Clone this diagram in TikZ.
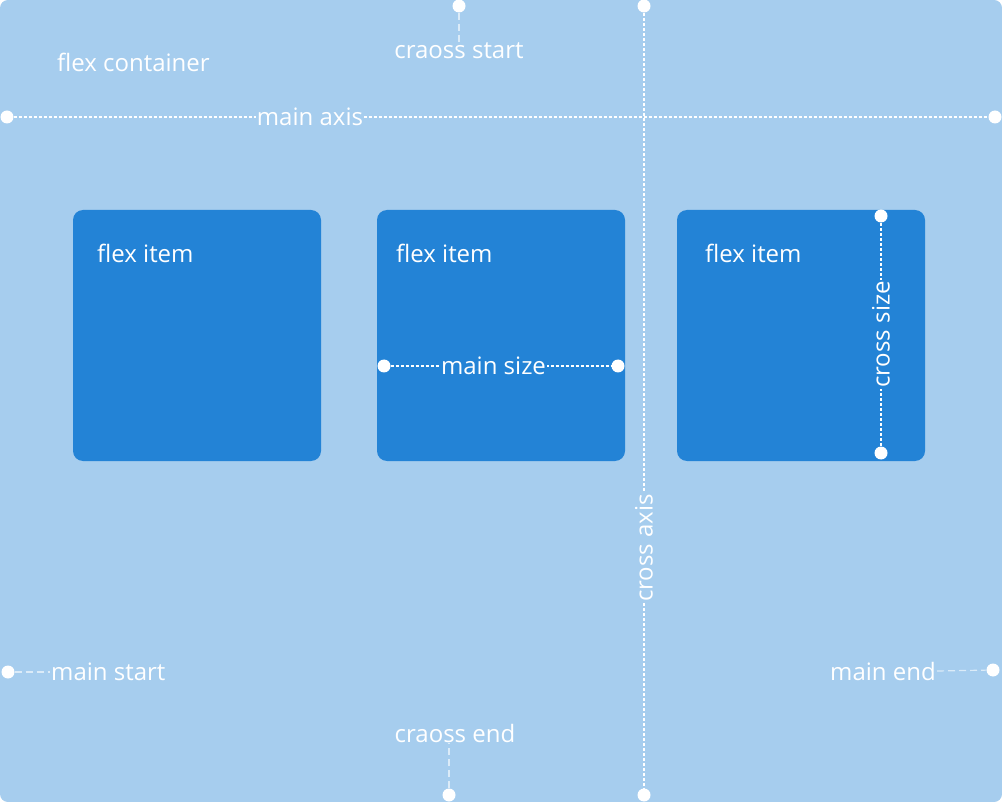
\documentclass[tikz,border=0pt]{standalone}
\usepackage{fontspec}
\setmainfont{Open Sans}
\usetikzlibrary{positioning}
\definecolor{boxbg}{RGB}{166,205,238}
\definecolor{itemblue}{RGB}{35,131,214}

\begin{document}
\begin{tikzpicture}[x=1pt,y=-1pt,
		txt/.style={text=white,font=\fontsize{24}{28}\selectfont,inner sep=1pt},
		dot/.style={circle,fill=white,inner sep=0pt,minimum size=13pt},
		item/.style={fill=itemblue,rounded corners=10pt,minimum width=248pt,minimum height=251pt,inner sep=0pt},
		axisline/.style={white,line width=1.2pt,dash pattern=on 3pt off 2pt},
		leader/.style={white,opacity=.6,line width=1.2pt,dash pattern=on 7pt off 4pt}]
	\useasboundingbox (0,0) rectangle (1002,802);
	% Container
	\fill[boxbg,rounded corners=8pt] (0,0) rectangle (1002,802);
	\node[txt,anchor=west] (container) at (56,62) {flex container};
	
	% Flex items
	\node[item] (item1) at (197,335.5) {};
	\node[item] (item2) at (501,335.5) {};
	\node[item] (item3) at (801,335.5) {};
	\node[txt,anchor=west] (lab1) at (96,253) {flex item};
	\node[txt,anchor=west] (lab2) at (395,253) {flex item};
	\node[txt,anchor=west] (lab3) at (704,253) {flex item};
	
	% Main axis and cross axis
	\node[dot] (mal) at (7,117) {};
	\node[dot] (mar) at (995,117) {};
	\node[dot] (cat) at (644,6) {};
	\node[dot] (cab) at (644,795) {};
	\draw[axisline] (mal) -- node[pos=.304,txt,fill=boxbg] (mainaxis) {main axis} (mar);
	\draw[axisline] (cat) -- node[pos=.69,txt,fill=boxbg,rotate=90] (crossaxis) {cross axis} (cab);
	
	% Start and end markers
	\node[dot] (csdot) at (459,6) {};
	\node[txt] (cslab) at (459,51) {craoss start};
	\draw[leader] (csdot) -- (cslab.north);
	\node[dot] (cedot) at (449,795) {};
	\node[txt] (celab) at (455,733) {craoss end};
	\draw[leader] (cedot) -- (cedot |- celab.south);
	\node[dot] (msdot) at (8,672) {};
	\node[txt,anchor=west] (mslab) at (50,672) {main start};
	\draw[leader] (msdot) -- (mslab.west);
	\node[dot] (medot) at (993,670) {};
	\node[txt,anchor=east] (melab) at (937,671) {main end};
	\draw[leader] (melab.east) -- (medot);
	
	% Sizes
	\node[dot] (msl) at (384,366) {};
	\node[dot] (msr) at (618,366) {};
	\draw[axisline] (msl) -- node[pos=.466,txt,fill=itemblue] (mainsize) {main size} (msr);
	\node[dot] (cst) at (881,216) {};
	\node[dot] (csb) at (881,453) {};
	\draw[axisline] (cst) -- node[pos=.5,txt,fill=itemblue,rotate=90] (crosssize) {cross size} (csb);
\end{tikzpicture}
\end{document}
